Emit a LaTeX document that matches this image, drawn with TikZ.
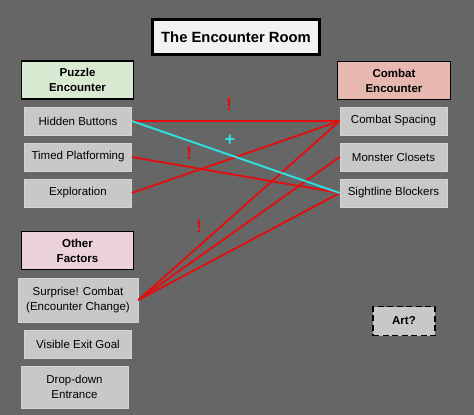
\documentclass[tikz,border=0pt]{standalone}
\usepackage{fontspec}
\setmainfont{Liberation Sans}
\begin{document}
\begin{tikzpicture}[x=1pt,y=-1pt,
  every node/.style={font=\fontsize{11.5}{15}\selectfont, align=center, inner sep=0pt},
  item/.style={fill=boxgray, draw=boxedge, line width=0.6pt, minimum width=107pt, minimum height=28pt},
  head/.style={draw=black, line width=1.6pt, minimum width=112pt, minimum height=38pt, font=\fontsize{11.5}{15}\selectfont\bfseries},
  redline/.style={draw=linered, line width=1.9pt},
  cyanline/.style={draw=linecyan, line width=1.9pt},
  symb/.style={font=\fontsize{18}{18}\selectfont\bfseries}
]
\definecolor{bg}{HTML}{666666}
\definecolor{boxgray}{HTML}{C8C8C8}
\definecolor{boxedge}{HTML}{D4D4D4}
\definecolor{linered}{HTML}{E01010}
\definecolor{linecyan}{HTML}{30E0E0}
\definecolor{hgreen}{HTML}{D9EAD3}
\definecolor{hred}{HTML}{E6B8AF}
\definecolor{hpink}{HTML}{EAD1DC}
\definecolor{titlefill}{HTML}{F2F2F2}
\fill[bg] (0,0) rectangle (474,415);
\useasboundingbox (0,0) rectangle (474,415);

\node[draw=black, line width=2.2pt, fill=titlefill, minimum width=167pt, minimum height=35pt,
      font=\fontsize{14.8}{16}\selectfont\bfseries] (title) at (236,37) {The Encounter Room};

\node[head, fill=hgreen] (puzzle) at (77.5,80) {Puzzle\\Encounter};
\node[item] (hidden) at (78,121) {Hidden Buttons};
\node[item] (timed) at (78,157) {Timed Platforming};
\node[item] (explor) at (78,193) {Exploration};

\node[head, fill=hred, minimum width=113pt] (combat) at (394,80.5) {Combat\\Encounter};
\node[item] (spacing) at (393.5,121) {Combat Spacing};
\node[item] (closets) at (393.5,157) {Monster Closets};
\node[item] (sight) at (393.5,193) {Sightline Blockers};

\node[head, fill=hpink] (other) at (77.5,250.5) {Other\\Factors};
\node[item, minimum width=120pt, minimum height=44pt] (surprise) at (78,300) {Surprise! Combat\\(Encounter Change)};
\node[item] (exit) at (78,344) {Visible Exit Goal};
\node[item, minimum height=42pt] (drop) at (74.5,387) {Drop-down\\Entrance};

\node[item, draw=black, dash pattern=on 6pt off 3.5pt, line width=1.6pt, minimum width=62pt, minimum height=29pt, font=\fontsize{11.5}{13.5}\selectfont\bfseries] (art) at (404,321) {Art?};

\draw[redline] (hidden.east) -- (spacing.west);
\draw[redline] (timed.east) -- (sight.west);
\draw[redline] (explor.east) -- (spacing.west);
\draw[redline] (surprise.east) -- (spacing.west);
\draw[redline] (surprise.east) -- (closets.west);
\draw[redline] (surprise.east) -- (sight.west);
\draw[cyanline] (hidden.east) -- (sight.west);

\node[symb, text=linered] (m1) at (229,104) {!};
\node[symb, text=linecyan] (m2) at (230,140) {+};
\node[symb, text=linered] (m3) at (189,153) {!};
\node[symb, text=linered] (m4) at (199,226) {!};
\end{tikzpicture}
\end{document}
